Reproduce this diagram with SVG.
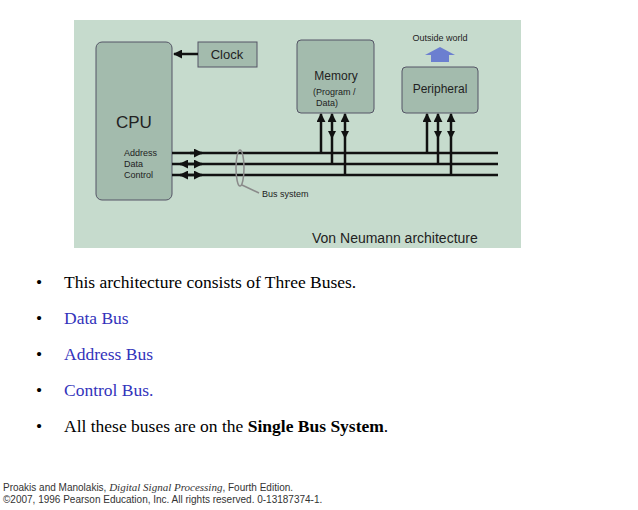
<svg xmlns="http://www.w3.org/2000/svg" width="638" height="510" viewBox="0 0 638 510">
<defs>
<style>
.box{fill:#a3bbad;stroke:#556;stroke-width:1}
.d{font-family:"Liberation Sans",Arial,sans-serif;fill:#222}
.bus{stroke:#111;stroke-width:2.5;fill:none}
.b{font-family:"Liberation Serif","Times New Roman",serif;font-size:17.5px;fill:#000}
.bl{fill:#3333bb}
</style>
<marker id="ah" viewBox="0 0 10 10" refX="9" refY="5" markerWidth="3.6" markerHeight="3.6" orient="auto-start-reverse"><path d="M0,0L10,5L0,10z" fill="#111"/></marker>
<marker id="dn" viewBox="0 0 10 10" refX="9" refY="5" markerWidth="3.6" markerHeight="3.6" orient="auto"><path d="M0,0L10,5L0,10z" fill="#111"/></marker>
</defs>
<rect width="638" height="510" fill="#fff"/>
<rect x="74" y="20" width="447" height="228" fill="#c6dbcd"/>
<g id="cpu"><rect class="box" x="96" y="42" width="76" height="158" rx="6"/>
<text class="d" x="116" y="128" font-size="17">CPU</text>
<text class="d" x="124" y="156" font-size="9">Address</text>
<text class="d" x="124" y="167" font-size="9">Data</text>
<text class="d" x="124" y="178" font-size="9">Control</text></g>
<g id="clock"><rect class="box" x="198" y="42" width="59" height="25"/>
<text class="d" x="227" y="59" font-size="13" text-anchor="middle">Clock</text></g>
<g id="memory"><rect class="box" x="297" y="40" width="77" height="73" rx="4"/>
<text class="d" x="336" y="80" font-size="12" text-anchor="middle">Memory</text>
<text class="d" x="313" y="95" font-size="9">(Program /</text>
<text class="d" x="316" y="106" font-size="9">Data)</text></g>
<g id="peripheral"><rect class="box" x="402" y="67" width="76" height="46" rx="4"/>
<text class="d" x="440" y="93" font-size="12" text-anchor="middle">Peripheral</text></g>
<g id="outside"><text class="d" x="440" y="41" font-size="9" text-anchor="middle">Outside world</text>
<path d="M431,62V55H425L440,47L455,55H449V62z" fill="#6b7fd0"/></g>
<g id="connectors">
<line class="bus" x1="198" y1="54" x2="174" y2="54" marker-end="url(#ah)"/>
<line class="bus" x1="172" y1="153" x2="498" y2="153"/>
<line class="bus" x1="172" y1="164" x2="498" y2="164"/>
<line class="bus" x1="172" y1="175" x2="498" y2="175"/>
<line class="bus" x1="190" y1="153" x2="202" y2="153" marker-end="url(#ah)"/>
<line class="bus" x1="180" y1="164" x2="202" y2="164" marker-start="url(#ah)" marker-end="url(#ah)"/>
<line class="bus" x1="180" y1="175" x2="202" y2="175" marker-start="url(#ah)" marker-end="url(#ah)"/>
<line class="bus" x1="321" y1="153" x2="321" y2="114" marker-end="url(#ah)"/>
<line class="bus" x1="332" y1="164" x2="332" y2="114" marker-end="url(#ah)"/>
<line class="bus" x1="345" y1="175" x2="345" y2="114" marker-end="url(#ah)"/>
<line class="bus" x1="427" y1="153" x2="427" y2="114" marker-end="url(#ah)"/>
<line class="bus" x1="438" y1="164" x2="438" y2="114" marker-end="url(#ah)"/>
<line class="bus" x1="451" y1="175" x2="451" y2="114" marker-end="url(#ah)"/>
<g fill="#111">
<path d="M328,131h8l-4,8z"/><path d="M341,131h8l-4,8z"/>
<path d="M434,131h8l-4,8z"/><path d="M447,131h8l-4,8z"/>
</g>
<ellipse cx="240" cy="168" rx="4" ry="18" fill="none" stroke="#8a8a8a" stroke-width="1.5"/>
<line x1="242" y1="185" x2="259" y2="193" stroke="#8a8a8a" stroke-width="1.5"/>
</g>
<text class="d" x="262" y="197" font-size="9">Bus system</text>
<text class="d" x="312" y="243" font-size="14">Von Neumann architecture</text>
<g class="b">
<text x="36" y="288">•</text><text x="64" y="288">This architecture consists of Three  Buses.</text>
<text x="36" y="324">•</text><text x="64" y="324" class="bl">Data Bus</text>
<text x="36" y="360">•</text><text x="64" y="360" class="bl">Address Bus</text>
<text x="36" y="396">•</text><text x="64" y="396" class="bl">Control Bus.</text>
<text x="36" y="432">•</text><text x="64" y="432">All these buses are on the <tspan font-weight="bold">Single Bus System</tspan>.</text>
</g>
<g font-family="'Liberation Sans',Arial,sans-serif" font-size="10" fill="#333">
<text x="3" y="491">Proakis and Manolakis, <tspan font-family="'Liberation Serif',serif" font-style="italic" font-size="11">Digital Signal Processing</tspan>, Fourth Edition.</text>
<text x="3" y="503">©2007, 1996 Pearson Education, Inc.  All rights reserved.  0-13187374-1.</text>
</g>
</svg>
